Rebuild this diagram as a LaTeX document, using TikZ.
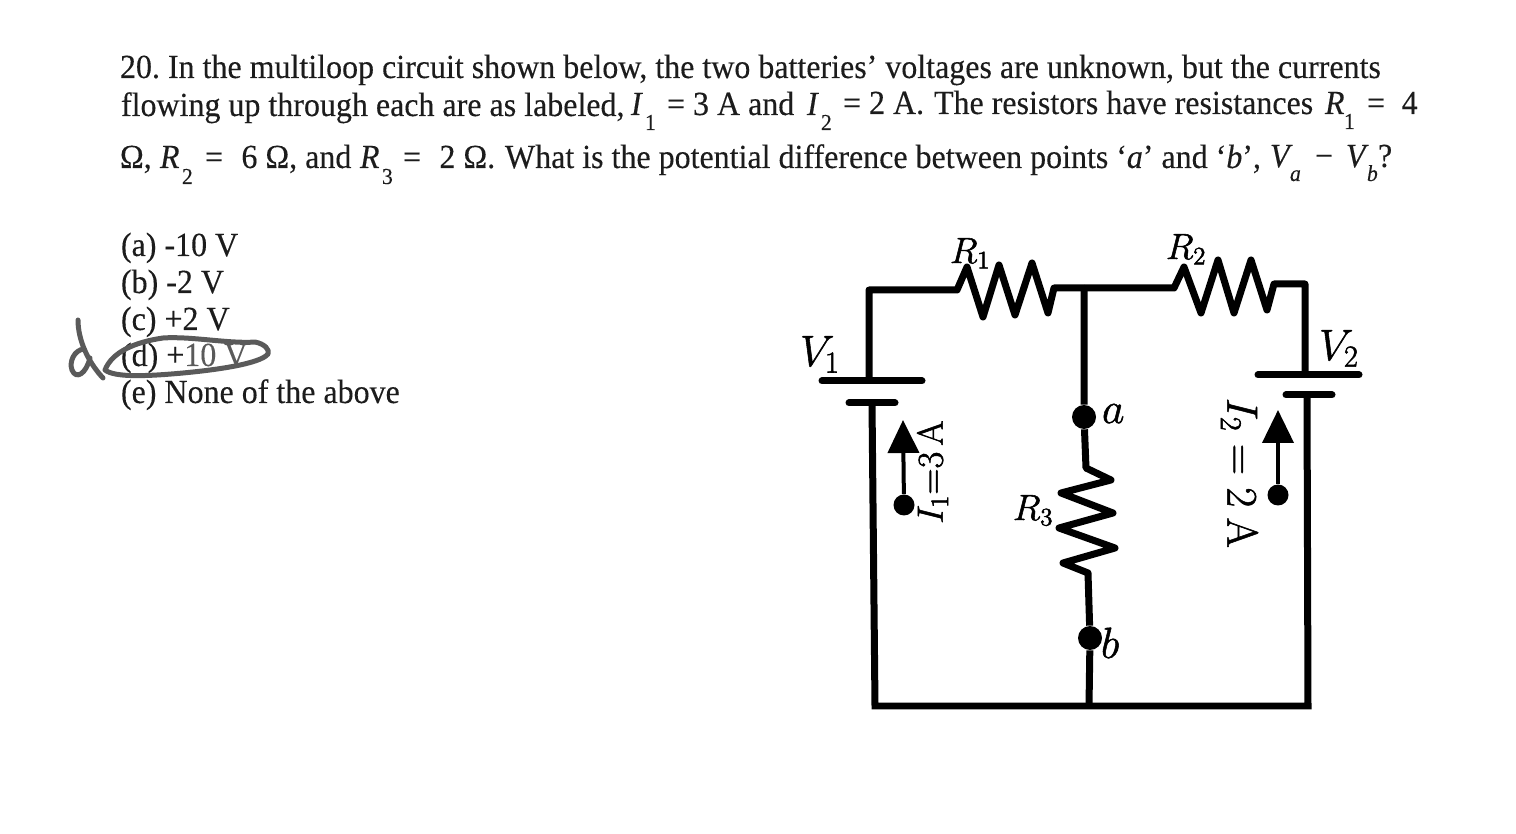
\documentclass[tikz,border=0pt]{standalone}
\usepackage[no-math]{fontspec}
\setmainfont[FakeStretch=0.948,FakeBold=0.25]{Liberation Serif}
\usepackage{amsmath}
\usetikzlibrary{arrows.meta}
\usetikzlibrary{positioning}
\definecolor{inkgray}{HTML}{5A5A5A}
\definecolor{printblack}{HTML}{1C1C1C}
\newcommand{\heavy}[1]{\special{pdf:code 2 Tr 0.3 w}#1\special{pdf:code 0 Tr 1 w}}
\tikzset{
	txt/.style={anchor=base west,inner sep=0pt,outer sep=0pt,text=printblack,font=\fontsize{19.2}{21}\selectfont},
	sub/.style={anchor=base west,inner sep=0pt,outer sep=0pt,text=printblack,font=\fontsize{13}{15}\selectfont},
	lab/.style={inner sep=0pt,outer sep=0pt,text=black,font=\fontsize{#1}{30}\selectfont},
	wire/.style={line width=0.14cm,line join=round,black},
	plate/.style={line width=0.14cm,line cap=round,black},
	dot/.style={circle,fill=black,inner sep=0pt,minimum size=#1},
	pen/.style={line width=0.1cm,inkgray,line cap=round,line join=round},
	cur/.style={line width=0.08cm,-{Triangle[length=0.66cm,width=0.62cm]}}
}
\begin{document}
\begin{tikzpicture}[x=0.02cm,y=-0.02cm]
	\useasboundingbox (0,0) rectangle (1516,834);
	% question
	\node[txt] (line1) at (120,78) {20.\ In the multiloop circuit shown below, the two batteries’ voltages are unknown, but the currents};
	\node[txt] (line2) at (121,116) {flowing up through each are as labeled,};
	\node[txt] (i1) at (631,115) {\textit{I}};
	\node[sub] (i1s) at (645,130) {1};
	\node[txt] (i1v) at (667,115) {= 3 A and};
	\node[txt] (i2) at (807,115) {\textit{I}};
	\node[sub] (i2s) at (821,130) {2};
	\node[txt] (i2v) at (843,114) {= 2 A.};
	\node[txt] (i2t) at (934,114) {The resistors have resistances};
	\node[txt] (r1) at (1325,114) {\textit{R}};
	\node[sub] (r1s) at (1344,129) {1};
	\node[txt] (r1v) at (1367,114) {=\hspace{9.5pt}4};
	\node[txt] (line3) at (120,168) {Ω,};
	\node[txt] (r2) at (160,168) {\textit{R}};
	\node[sub] (r2s) at (182,184) {2};
	\node[txt] (r2v) at (205,168) {=\hspace{10.5pt}6 Ω, and};
	\node[txt] (r3) at (360,168) {\textit{R}};
	\node[sub] (r3s) at (382,184) {3};
	\node[txt] (r3v) at (403,168) {=\hspace{10.5pt}2 Ω.};
	\node[txt] (r3t) at (505,168) {What is the potential difference between points ‘\textit{a}’ and ‘\textit{b}’,};
	\node[txt] (va) at (1270,167) {\textit{V}};
	\node[sub] (vas) at (1290,181) {\textit{a}};
	\node[txt] (mns) at (1315,167) {−};
	\node[txt] (vb) at (1346,167) {\textit{V}};
	\node[sub] (vbs) at (1367,181) {\textit{b}};
	\node[txt] (qm) at (1378,167) {?};
	% answers
	\node[txt] (ansa) at (121,256) {(a) -10 V};
	\node[txt] (ansb) at (121,293) {(b) -2 V};
	\node[txt] (ansc) at (121,330) {(c) +2 V};
	\node[txt] (ansd) at (121,366) {(d) +\textcolor{inkgray}{10 V}};
	\node[txt] (anse) at (121,403) {(e) None of the above};
	% handwriting
	\draw[pen] (105,370) .. controls (112,352) and (135,342) .. (163,338) .. controls (190,336) and (230,344) .. (255,342) .. controls (265,344) and (270,350) .. (268,354) .. controls (260,364) and (215,370) .. (183,373) .. controls (150,376) and (115,378) .. (105,370);
	\draw[pen] (78,320) .. controls (78,340) and (88,362) .. (103,378);
	\draw[pen] (84,349) .. controls (74,350) and (69,362) .. (72,370) .. controls (76,380) and (86,374) .. (90,358);
	% nodes of the circuit
	\node[dot=0.48cm] (a) at (1084,417) {};
	\node[dot=0.48cm] (b) at (1090,638) {};
	\node[dot=0.42cm] (s1) at (904,505) {};
	\node[dot=0.42cm] (s2) at (1278,495) {};
	\coordinate (top1) at (869,290);
	\coordinate (top2) at (1305,284);
	\coordinate (j) at (1084,288);
	\coordinate (bl) at (875,706);
	\coordinate (bj) at (1089,706);
	\coordinate (br) at (1308,706);
	\coordinate (p1) at (869,381);
	\coordinate (n1) at (872,403);
	\coordinate (p2) at (1305,375);
	\coordinate (n2) at (1307,395);
	\coordinate (h1) at (903,420);
	\coordinate (h2) at (1278,410);
	% wires
	\draw[wire] (p1) -- (top1) -- (957,290) -- (967,267) -- (983,317) -- (999,265) -- (1015,315) -- (1032,263) -- (1048,313) -- (1054,288) -- (j);
	\draw[wire] (j) -- (1174,288) -- (1184,267) -- (1201,313) -- (1218,260) -- (1234,313) -- (1251,260) -- (1267,310) -- (1274,284) -- (top2) -- (p2);
	\draw[wire] (j) -- (a) -- (1086,468) -- (1111,480) -- (1061,493) -- (1113,513) -- (1059,528) -- (1115,548) -- (1063,563) -- (1088,573) -- (b) -- (bj);
	\draw[wire,line join=miter] (n1) -- (bl) -- (br) -- (n2);
	% batteries
	\draw[plate] (822,381) -- (922,381);
	\draw[plate] (849,403) -- (895,403);
	\draw[plate] (1258,375) -- (1359,375);
	\draw[plate] (1286,395) -- (1332,395);
	% currents
	\draw[cur] (s1) -- (h1);
	\draw[cur] (s2) -- (h2);
	% labels
	\node[lab=22,anchor=base west] (lr1) at (950,263) {\heavy{$R_1$}};
	\node[lab=22,anchor=base west] (lr2) at (1166,259) {\heavy{$R_2$}};
	\node[lab=22,anchor=base west] (lr3) at (1013,520) {\heavy{$R_3$}};
	\node[lab=27,anchor=base west] (lv1) at (800,366) {\heavy{$V_1$}};
	\node[lab=27,anchor=base west] (lv2) at (1319,360) {\heavy{$V_2$}};
	\node[lab=24,anchor=base west] (la) at (1102,423) {\heavy{$a$}};
	\node[lab=29,anchor=base west] (lb) at (1101,658) {\heavy{$b$}};
	\node[lab=21,rotate=90] (li1) at (933,472) {\heavy{$I_1{=}3\,\mathrm{A}$}};
	\node[lab=25,rotate=-90] (li2) at (1239,473) {\heavy{$I_2=2\ \mathrm{A}$}};
\end{tikzpicture}
\end{document}
